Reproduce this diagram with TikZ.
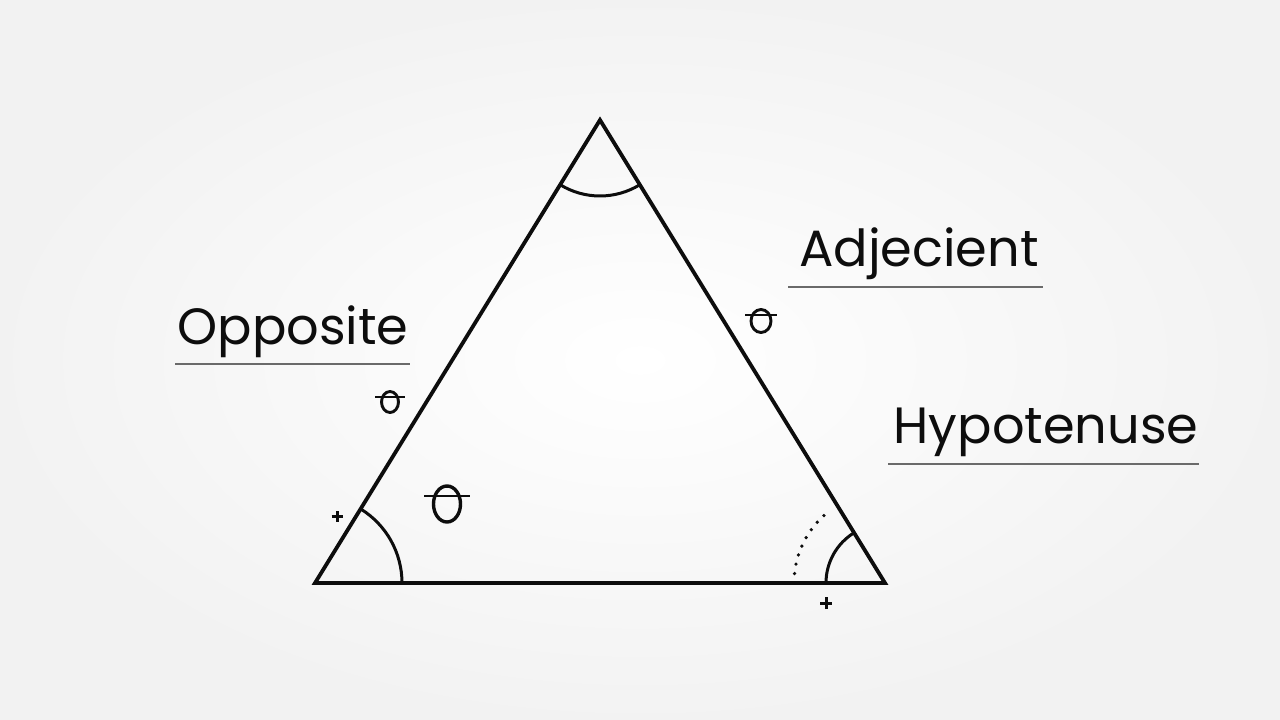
\documentclass[tikz,border=0pt]{standalone}
\usepackage{fontspec}
\setmainfont{Poppins}
\definecolor{ink}{HTML}{0D0D0D}
\definecolor{rule}{HTML}{6A6A6A}
\tikzset{
  side/.style={draw=ink, line width=3.8pt, line join=miter},
  anglearc/.style={draw=ink, line width=3pt},
  dotarc/.style={draw=ink, line width=3.6pt, line cap=round, dash pattern=on 0pt off 9.5pt},
  lbl/.style={font=\fontsize{51}{60}\selectfont, text=ink, inner sep=0pt},
  uline/.style={draw=rule, line width=2pt},
  thoval/.style={draw=ink, line width=2.9pt},
  thbar/.style={draw=ink, line width=2.4pt},
  plusmark/.style={draw=ink, line width=3pt},
}
\begin{document}
\begin{tikzpicture}[x=1pt,y=-1pt]
% background
\useasboundingbox (0,0) rectangle (1280,720);
\shade[inner color=white, outer color=black!5] (0,0) rectangle (1280,720);

% triangle
\coordinate (A) at (315,583);
\coordinate (B) at (885,583);
\coordinate (C) at (600,120);
\draw[side] (A) -- (B) -- (C) -- cycle;

% angle arcs
\draw[anglearc] ([xshift=87pt]A) arc[start angle=0, end angle=-58.4, radius=87];
\draw[anglearc] (C) ++(121.6:76) arc[start angle=121.6, end angle=58.4, radius=76];
\draw[anglearc] ([xshift=-59pt]B) arc[start angle=180, end angle=238.4, radius=59];
\draw[dotarc] ([xshift=-91pt]B) arc[start angle=180, end angle=232, radius=91];

% plus marks
\coordinate (p1) at (337,516);
\draw[plusmark] ([xshift=-5.5pt]p1) -- ([xshift=5.5pt]p1) ([yshift=-5.5pt]p1) -- ([yshift=5.5pt]p1);
\coordinate (p2) at (826,603);
\draw[plusmark] ([xshift=-6pt]p2) -- ([xshift=6pt]p2) ([yshift=-6pt]p2) -- ([yshift=6pt]p2);

% theta marks
\coordinate (t1) at (390,402);
\draw[thoval] (t1) ellipse (8.5 and 10.5);
\draw[thbar] ([xshift=-15pt,yshift=5pt]t1) -- ([xshift=15pt,yshift=5pt]t1);
\coordinate (t2) at (761,321);
\draw[thoval] (t2) ellipse (10 and 11.5);
\draw[thbar] ([xshift=-16pt,yshift=6pt]t2) -- ([xshift=16pt,yshift=6pt]t2);
\coordinate (t3) at (447,504);
\draw[thoval, line width=3.4pt] (t3) ellipse (13.5 and 18);
\draw[thbar, line width=2.8pt] ([xshift=-23pt,yshift=8pt]t3) -- ([xshift=23pt,yshift=8pt]t3);

% labels
\node[lbl] (opp) at (293,332) {Opposite};
\draw[uline] (175,364) -- (410,364);
\node[lbl] (adj) at (919,254) {Adjecient};
\draw[uline] (788,287) -- (1043,287);
\node[lbl] (hyp) at (1046,432) {Hypotenuse};
\draw[uline] (888,464) -- (1199,464);
\end{tikzpicture}
\end{document}
